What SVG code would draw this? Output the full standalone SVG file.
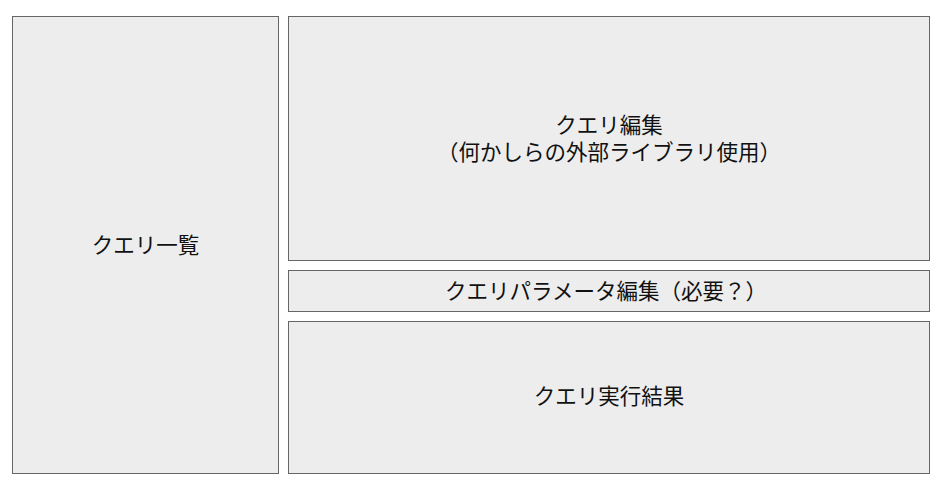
<svg xmlns="http://www.w3.org/2000/svg" width="943" height="492" viewBox="0 0 943 492">
<style>
.box{fill:#ededed;stroke:#666666;stroke-width:1}
.lbl{font-family:"Noto Sans CJK JP","Noto Sans",sans-serif;font-size:21.5px;fill:#111111;text-anchor:middle}
</style>
<rect width="943" height="492" fill="#ffffff"/>
<g id="list"><rect class="box" x="12.5" y="16.5" width="266" height="457"/><text class="lbl" x="145.5" y="252.5">クエリ一覧</text></g>
<g id="editor"><rect class="box" x="288.5" y="16.5" width="641" height="244"/><text class="lbl"><tspan x="609" y="133">クエリ編集</tspan><tspan x="609" y="159.5">（何かしらの外部ライブラリ使用）</tspan></text></g>
<g id="params"><rect class="box" x="288.5" y="270.5" width="641" height="41"/><text class="lbl" x="606" y="298.5">クエリパラメータ編集（必要？）</text></g>
<g id="result"><rect class="box" x="288.5" y="321.5" width="641" height="152"/><text class="lbl" x="609" y="404">クエリ実行結果</text></g>
<g id="connectors"></g>
</svg>
